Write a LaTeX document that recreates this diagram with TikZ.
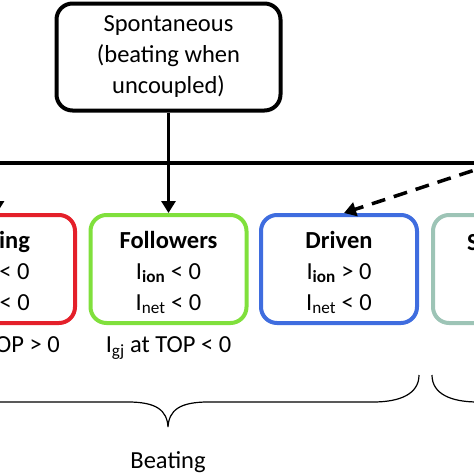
\documentclass[tikz,border=0pt]{standalone}
\usepackage{fontspec}
\setmainfont{Carlito}
\usepackage{tikz}
\usetikzlibrary{arrows.meta, positioning}

\definecolor{pacingred}{HTML}{E4202A}
\definecolor{followgreen}{HTML}{80E03C}
\definecolor{drivenblue}{HTML}{3F6DDF}
\definecolor{silentgray}{HTML}{9DC4B6}
\newcommand{\cellstrut}{\rule{0pt}{24pt}}

\begin{document}
\begin{tikzpicture}[x=1pt, y=-1pt,
    every node/.style={font=\fontsize{24.5}{31}\selectfont},
    cellbox/.style={draw, line width=4pt, rounded corners=16pt, minimum width=156pt,
        minimum height=108pt, align=center, inner sep=0pt},
    link/.style={line width=3.5pt, -{Triangle[width=14pt, length=12pt]}},
    dashlink/.style={link, dash pattern=on 14pt off 9pt},
    brace/.style={line width=1.2pt}]
    \useasboundingbox (0,0) rectangle (474,474);
    \clip (0,0) rectangle (474,474);

    % top box and the bar
    \node[cellbox, minimum width=224pt, minimum height=107pt] (spont) at (168.5,57)
        {Spontaneous\\(beating when\\uncoupled)};
    \coordinate (bar west) at (-100,163);
    \coordinate (bar east) at (574,163);
    \draw[line width=3.5pt] (bar west) -- (bar east);

    % the four kinds of cells
    \node[cellbox, draw=pacingred] (pacing) at (-3,269)
        {\cellstrut\textbf{Pacing}\\I\textsubscript{\textbf{ion}} < 0\\I\textsubscript{net} < 0};
    \node[cellbox, draw=followgreen] (followers) at (168.5,269)
        {\cellstrut\textbf{Followers}\\I\textsubscript{\textbf{ion}} < 0\\I\textsubscript{net} < 0};
    \node[cellbox, draw=drivenblue] (driven) at (339,269)
        {\cellstrut\textbf{Driven}\\I\textsubscript{\textbf{ion}} > 0\\I\textsubscript{net} < 0};
    \node[cellbox, draw=silentgray] (silent) at (511,269) {};
    \node[anchor=west, inner sep=0pt] (silenttitle) at (467,243) {\textbf{S}};

    \node[below=8pt of pacing] (pacinggj) {I\textsubscript{gj} at TOP > 0};
    \node[below=8pt of followers] (followersgj) {I\textsubscript{gj} at TOP < 0};

    % arrows
    \draw[link] (spont) -- (followers);
    \draw[link] (pacing |- bar west) -- (pacing);
    \coordinate (drivesrc) at (560,142);
    \draw[dashlink] (drivesrc) -- ([xshift=5pt]driven.north);

    % braces
    \draw[brace] (-83,375) .. controls (-83,395) and (-64,402) .. (-37,402) -- (128,402)
        .. controls (156,402) and (167,410) .. (168,427)
        .. controls (169,410) and (180,402) .. (208,402) -- (373,402)
        .. controls (400,402) and (419,394) .. (419,375);
    \draw[brace] (432,375) .. controls (432,394) and (451,402) .. (478,402) -- (540,402);
    \node (beating) at (168,462) {Beating};
\end{tikzpicture}
\end{document}
